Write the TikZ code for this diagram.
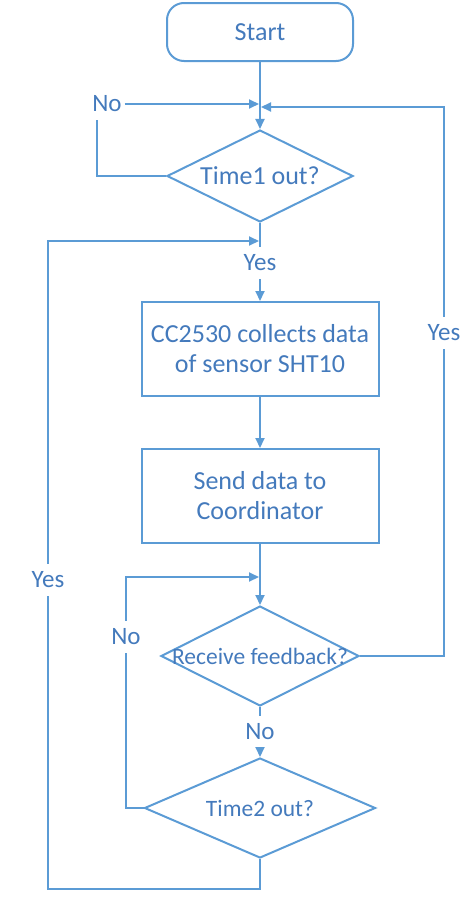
\documentclass[tikz,border=0pt]{standalone}
\usepackage{fontspec}
\setmainfont{Carlito}
\usetikzlibrary{shapes.geometric,arrows.meta}

\definecolor{flowline}{RGB}{91,155,213}
\definecolor{flowtext}{RGB}{68,122,188}

\begin{document}
\begin{tikzpicture}[x=1pt,y=-1pt,
  color=flowline, text=flowtext, line width=2pt,
  font=\fontsize{26}{30}\selectfont,
  >={Triangle[length=10pt,width=9pt]},
  terminal/.style={draw,rounded corners=17pt,minimum width=186pt,minimum height=58pt},
  process/.style={draw,align=center,minimum width=237pt,minimum height=94pt},
  decision/.style 2 args={draw,diamond,inner sep=0pt,minimum width=#1,minimum height=#2},
  small/.style={font=\fontsize{23.5}{28}\selectfont},
  tag/.style={inner xsep=2pt,inner ysep=7pt,font=\fontsize{25}{29}\selectfont}]

  \useasboundingbox (0,0) rectangle (474,902);

  % Blocks
  \node[terminal] (start) at (260,32) {Start};
  \node[decision={186pt}{92pt}] (d1) at (260,176) {};
  \node (d1text) at (d1) {Time1 out?};
  \node[process] (collect) at (260,349) {CC2530 collects data\\of sensor SHT10};
  \node[process] (send) at (260,496) {Send data to\\Coordinator};
  \node[decision={198pt}{100pt}] (d2) at (260,656) {};
  \node[small] (d2text) at (d2) {Receive feedback?};
  \node[decision={231pt}{100pt}] (d3) at (260,808) {};
  \node[small] (d3text) at (d3) {Time2 out?};

  % Labels
  \node[tag] (no1) at (107,104) {No};
  \node[tag] (yes1) at (260,263) {Yes};
  \node[tag] (yes2) at (444,333) {Yes};
  \node[tag] (no3) at (126,637) {No};
  \node[tag] (no2) at (260,732) {No};
  \node[tag] (yes3) at (48,580) {Yes};

  % Merge points
  \coordinate (m1) at (259,104);
  \coordinate (m1r) at (261,107);
  \coordinate (m3) at (259,241);
  \coordinate (m2) at (259,577);

  % Main flow
  \draw[->] (start) -- (d1);
  \draw (d1) -- (yes1);
  \draw[->] (yes1) -- (collect);
  \draw[->] (collect) -- (send);
  \draw[->] (send) -- (d2);
  \draw (d2) -- (no2);
  \draw[->] (no2) -- (d3);

  % Loops
  \draw (d1.west) -| ([xshift=-10pt]no1.south);
  \draw[->] (no1) -- (m1);
  \draw (d2.east) -| (yes2);
  \draw[->] (yes2) |- (m1r);
  \draw (d3.west) -| (no3);
  \draw[->] (no3) |- (m2);
  \draw (d3.south) -- ++(0,30) -| (yes3);
  \draw[->] (yes3) |- (m3);

\end{tikzpicture}
\end{document}
